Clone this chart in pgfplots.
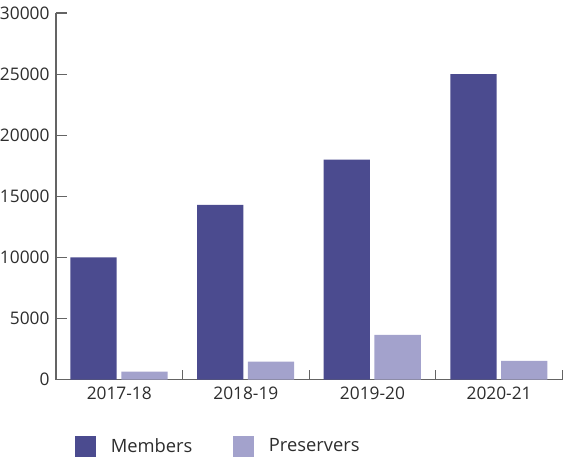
\documentclass[border=0pt]{standalone}
\usepackage{pgfplots}
\pgfplotsset{compat=1.18}
\usepackage{fontspec}
\setmainfont{Open Sans}
\definecolor{memb}{RGB}{75,75,143}
\definecolor{pres}{RGB}{163,162,204}
\definecolor{axgray}{RGB}{100,100,100}
\definecolor{txt}{RGB}{45,45,45}
\begin{document}
\begin{tikzpicture}
\begin{axis}[
  scale only axis,
  width=251.5pt, height=182pt,
  xmin=-0.5, xmax=3.5,
  ymin=0, ymax=30000,
  axis lines*=left,
  axis line style={axgray, line width=0.6pt},
  ytick={0,5000,...,30000},
  scaled y ticks=false,
  yticklabel style={font=\fontsize{8.6}{10}\selectfont, text=txt, inner xsep=0pt, xshift=-3pt},
  /pgf/number format/1000 sep={},
  /pgf/number format/assume math mode=true,
  y tick style={axgray, line width=0.6pt},
  ytick align=inside,
  major tick length=5.5pt,
  xtick={0,1,2,3},
  xticklabels={2017-18,2018-19,2019-20,2020-21},
  xticklabel style={font=\fontsize{8.6}{10}\selectfont, text=txt},
  x tick style={draw=none},
  extra x ticks={-0.5,0.5,1.5,2.5,3.5},
  extra x tick labels={},
  extra x tick style={x tick style={draw=axgray, line width=0.6pt}, major tick length=4.5pt, tick align=inside, xticklabel style={overlay}},
  legend style={at={(rel axis cs:0.04,0)}, anchor=north west, yshift=-25pt, xshift=-4pt, draw=none, fill=none,
    font=\fontsize{9.1}{11}\selectfont, text=txt, legend columns=2,
    /tikz/every even column/.append style={column sep=18pt}},
  legend image code/.code={\fill[#1] (0pt,-5.25pt) rectangle (10.5pt,5.25pt); \path[draw=none,fill=none] (0pt,0pt) rectangle (16pt,0.1pt);},
  legend cell align=left,
  clip=false,
]
\addplot[ybar, bar width=23pt, bar shift=-12.75pt, fill=memb, draw=none] coordinates {(0,10000) (1,14300) (2,18000) (3,25000)};
\addlegendentry{Members}
\addplot[ybar, bar width=23pt, bar shift=12.5pt, fill=pres, draw=none] coordinates {(0,650) (1,1470) (2,3650) (3,1530)};
\addlegendentry{Preservers}
\end{axis}
\end{tikzpicture}
\end{document}
